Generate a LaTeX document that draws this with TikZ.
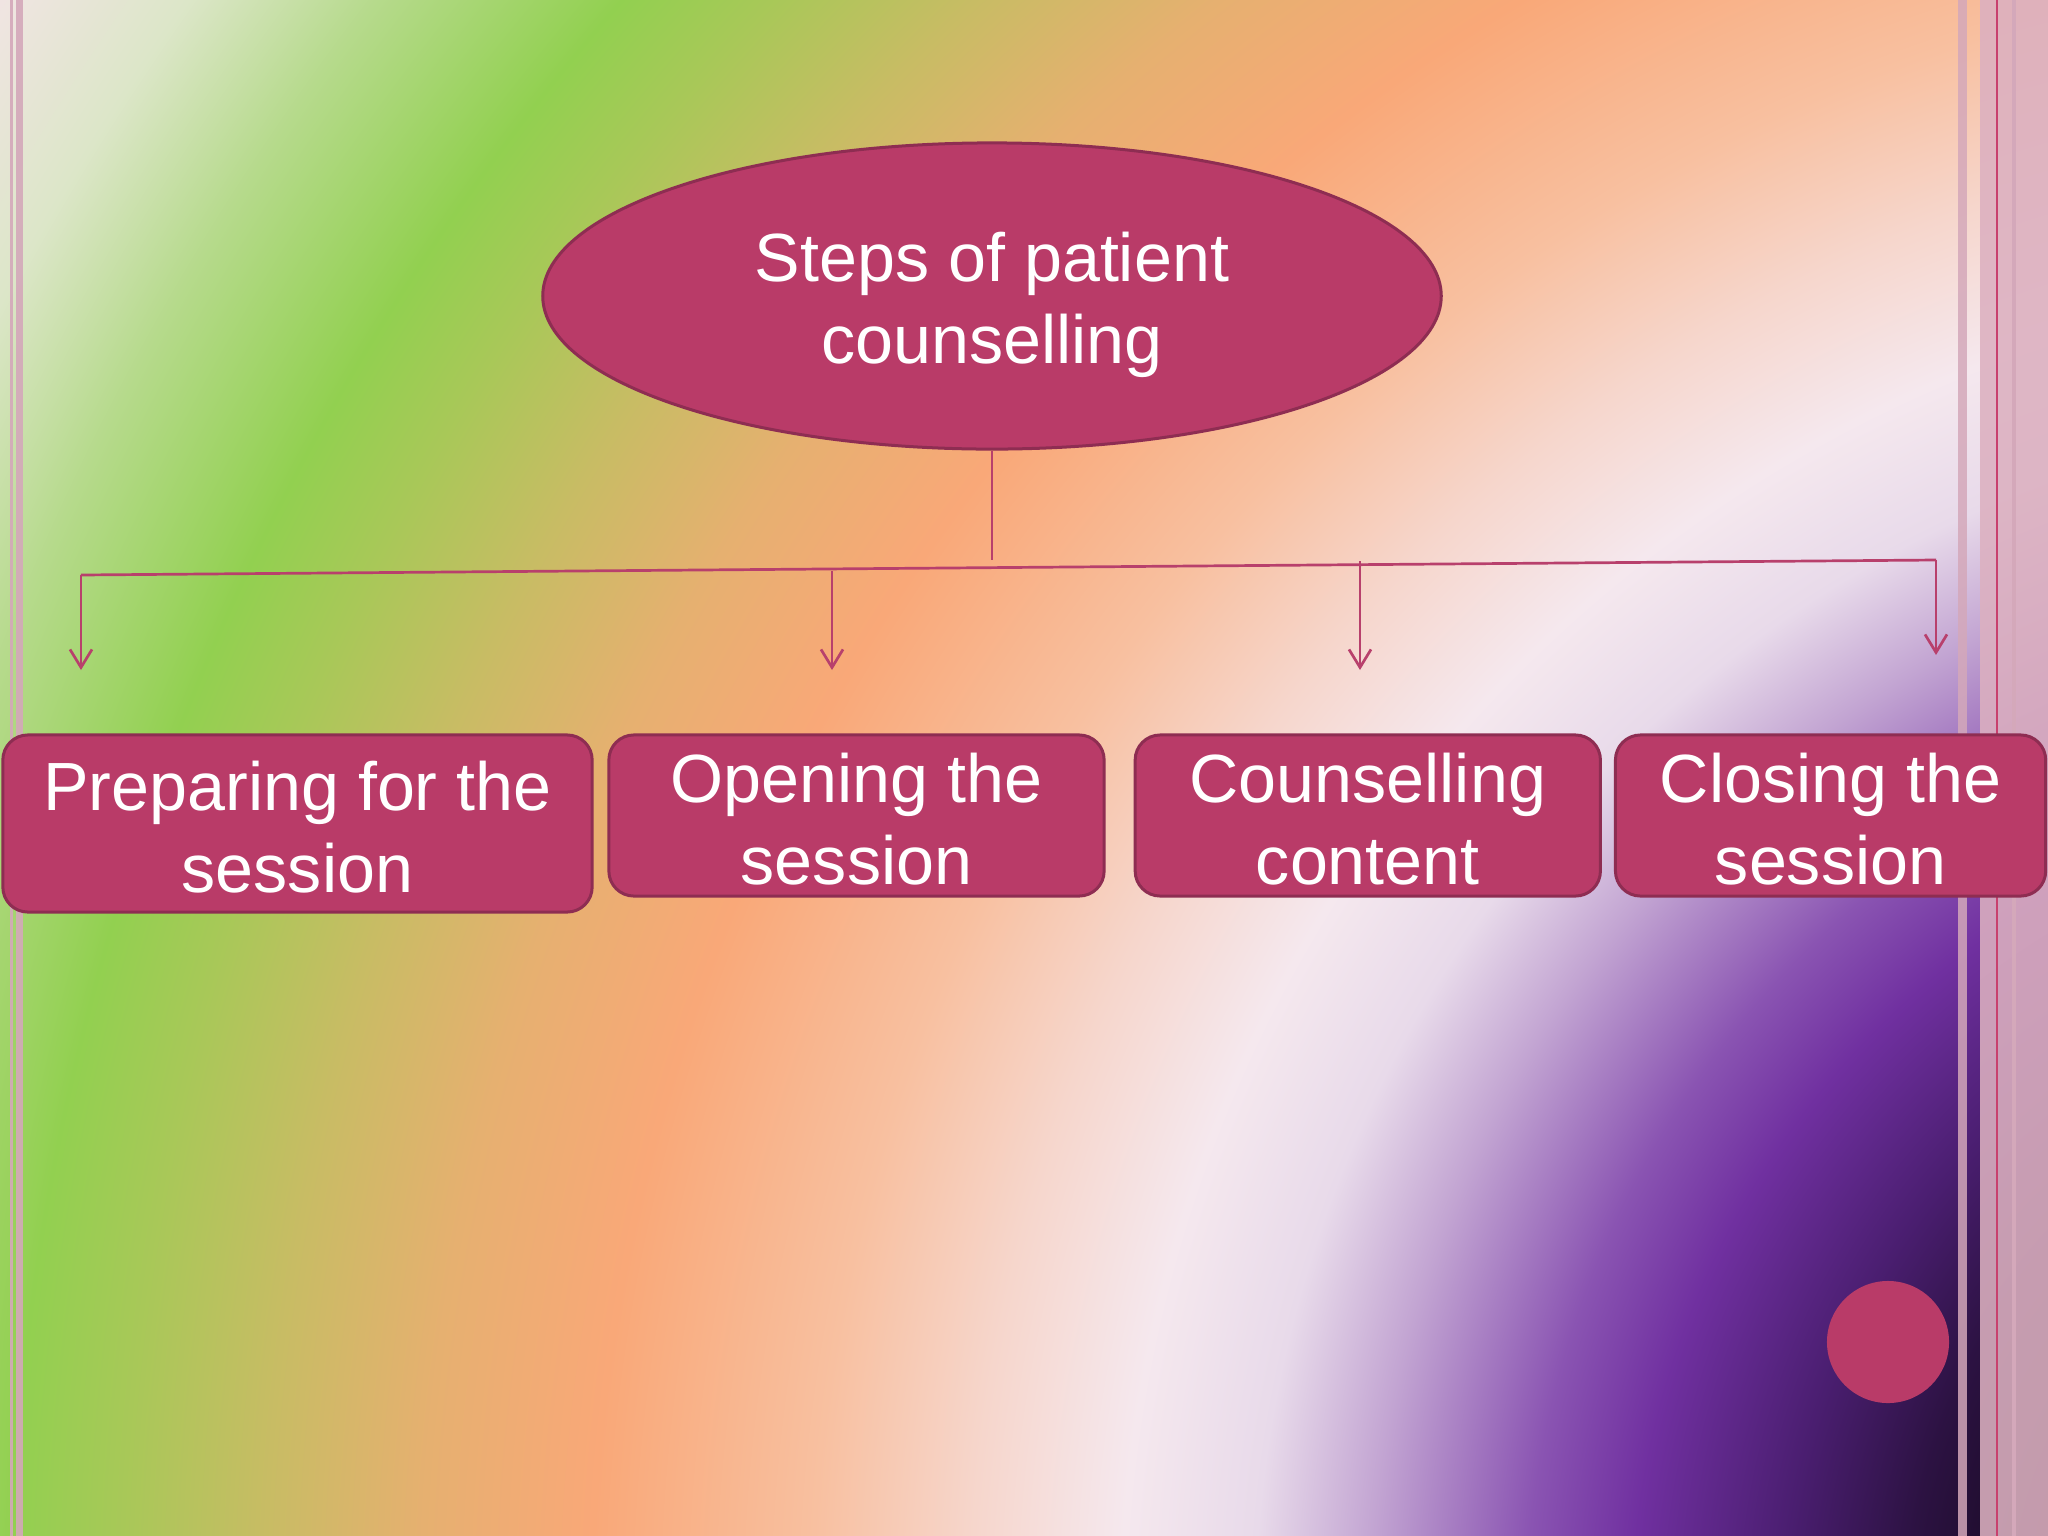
\documentclass[tikz,border=0pt]{standalone}
\usepackage{fontspec}
\setmainfont{Liberation Sans}
\usepackage{tikz}
\usetikzlibrary{shapes.geometric, arrows.meta, positioning}
\definecolor{stepfill}{HTML}{B93B68}
\definecolor{stepborder}{HTML}{8E2D52}
\definecolor{linkpink}{HTML}{B8406C}
\definecolor{framepink}{HTML}{DCB0C0}
\definecolor{framestripe}{HTML}{D4A8BA}
\definecolor{frameline}{HTML}{C8406E}
% background colours, from the dark corner outwards
\definecolor{bgA}{HTML}{0E0610}
\definecolor{bgB}{HTML}{180A22}
\definecolor{bgC}{HTML}{2C1242}
\definecolor{bgD}{HTML}{4A1E70}
\definecolor{bgE}{HTML}{7030A0}
\definecolor{bgF}{HTML}{8A54B2}
\definecolor{bgG}{HTML}{C2A4D2}
\definecolor{bgH}{HTML}{E8DAEA}
\definecolor{bgI}{HTML}{F5E8EE}
\definecolor{bgJ}{HTML}{F6D6CC}
\definecolor{bgK}{HTML}{F8C0A0}
\definecolor{bgL}{HTML}{F9A878}
\definecolor{bgM}{HTML}{E6B070}
\definecolor{bgN}{HTML}{C8BC64}
\definecolor{bgO}{HTML}{A8C858}
\definecolor{bgP}{HTML}{92D050}
\definecolor{bgQ}{HTML}{B6DA8C}
\definecolor{bgR}{HTML}{DCE6C8}
\definecolor{bgS}{HTML}{F6E4EA}
\pgfdeclareradialshading{slidebg}{\pgfpoint{0bp}{0bp}}{%
  color(0bp)=(bgA); color(124.7bp)=(bgB); color(160bp)=(bgC);
  color(195bp)=(bgD); color(238bp)=(bgE); color(268bp)=(bgF);
  color(312bp)=(bgG); color(345bp)=(bgH); color(382.7bp)=(bgI);
  color(425.2bp)=(bgJ); color(470.3bp)=(bgK); color(532.9bp)=(bgL);
  color(581.1bp)=(bgM); color(625.6bp)=(bgN); color(666.1bp)=(bgO);
  color(697.3bp)=(bgP); color(751.2bp)=(bgQ); color(793.7bp)=(bgR);
  color(850.4bp)=(bgS)}

\begin{document}
\begin{tikzpicture}[
        x=0.01cm, y=-0.01cm,
        steptext/.style = {font=\fontsize{19.4}{23.3}\selectfont, text=white, align=center},
        titleoval/.style = {draw=stepborder, fill=stepfill, ellipse, line width=0.03cm, minimum width=8.98cm, minimum height=3.06cm, inner sep=0pt,
            label={[steptext, name=titletext, yshift=-0.09cm]center:#1}},
        stepbox/.style = {draw=stepborder, fill=stepfill, rectangle, rounded corners=0.25cm, line width=0.03cm, minimum height=1.61cm, inner sep=0pt,
            label={[steptext, yshift=-0.04cm]center:#1}},
        link/.style = {draw=linkpink, line width=0.027cm},
        arrow/.style = {link, -{Straight Barb[length=0.18cm, width=0.22cm]}}
    ]

        \useasboundingbox (0,0) rectangle (2048,1536);

        % === Background ===
        \begin{scope}
            \clip (0,0) rectangle (2048,1536);
            \node[inner sep=0pt] at (2472,1623) {\pgfuseshading{slidebg}};
        \end{scope}

        % frame stripes
        \fill[framestripe, opacity=0.9] (10,0) rectangle (13,1536);
        \fill[framestripe, opacity=0.9] (16,0) rectangle (23,1536);
        \fill[framestripe, opacity=0.85] (1958,0) rectangle (1967,1536);
        \fill[framepink, opacity=0.88] (1980,0) rectangle (2048,1536);
        \fill[framestripe] (2012,0) rectangle (2016,1536);
        \draw[frameline, line width=0.02cm] (1997,0) -- (1997,1536);

        % === Nodes ===
        \node (title) [titleoval={Steps of patient\\counselling}] at (992,296) {};

        \node (prep) [stepbox={Preparing for the\\session}, minimum width=5.89cm, minimum height=1.77cm] at (297.5,823.5) {};
        \node (open) [stepbox={Opening the\\session}, minimum width=4.95cm] at (856.5,815.5) {};
        \node (content) [stepbox={Counselling\\content}, minimum width=4.65cm, right=0.28cm of open] {};
        \node (close) [stepbox={Closing the\\session}, minimum width=4.30cm, right=0.12cm of content] {};

        \node (dot) [circle, fill=stepfill, minimum size=1.22cm, inner sep=0pt] at (1888,1342) {};

        % === Connectors ===
        \coordinate (hubM) at (992,560);
        \coordinate (split1) at (81,575);
        \coordinate (split2) at (832,571);
        \coordinate (split3) at (1360,561);
        \coordinate (split4) at (1936,560);
        \coordinate (tip1) at (81,670);
        \coordinate (tip2) at (832,670);
        \coordinate (tip3) at (1360,670);
        \coordinate (tip4) at (1936,655);

        \draw [link] (title.south) -- (hubM);
        \draw [link] (split1) -- (split4);
        \draw [arrow] (split1) -- (tip1);
        \draw [arrow] (split2) -- (tip2);
        \draw [arrow] (split3) -- (tip3);
        \draw [arrow] (split4) -- (tip4);

    \end{tikzpicture}
\end{document}
